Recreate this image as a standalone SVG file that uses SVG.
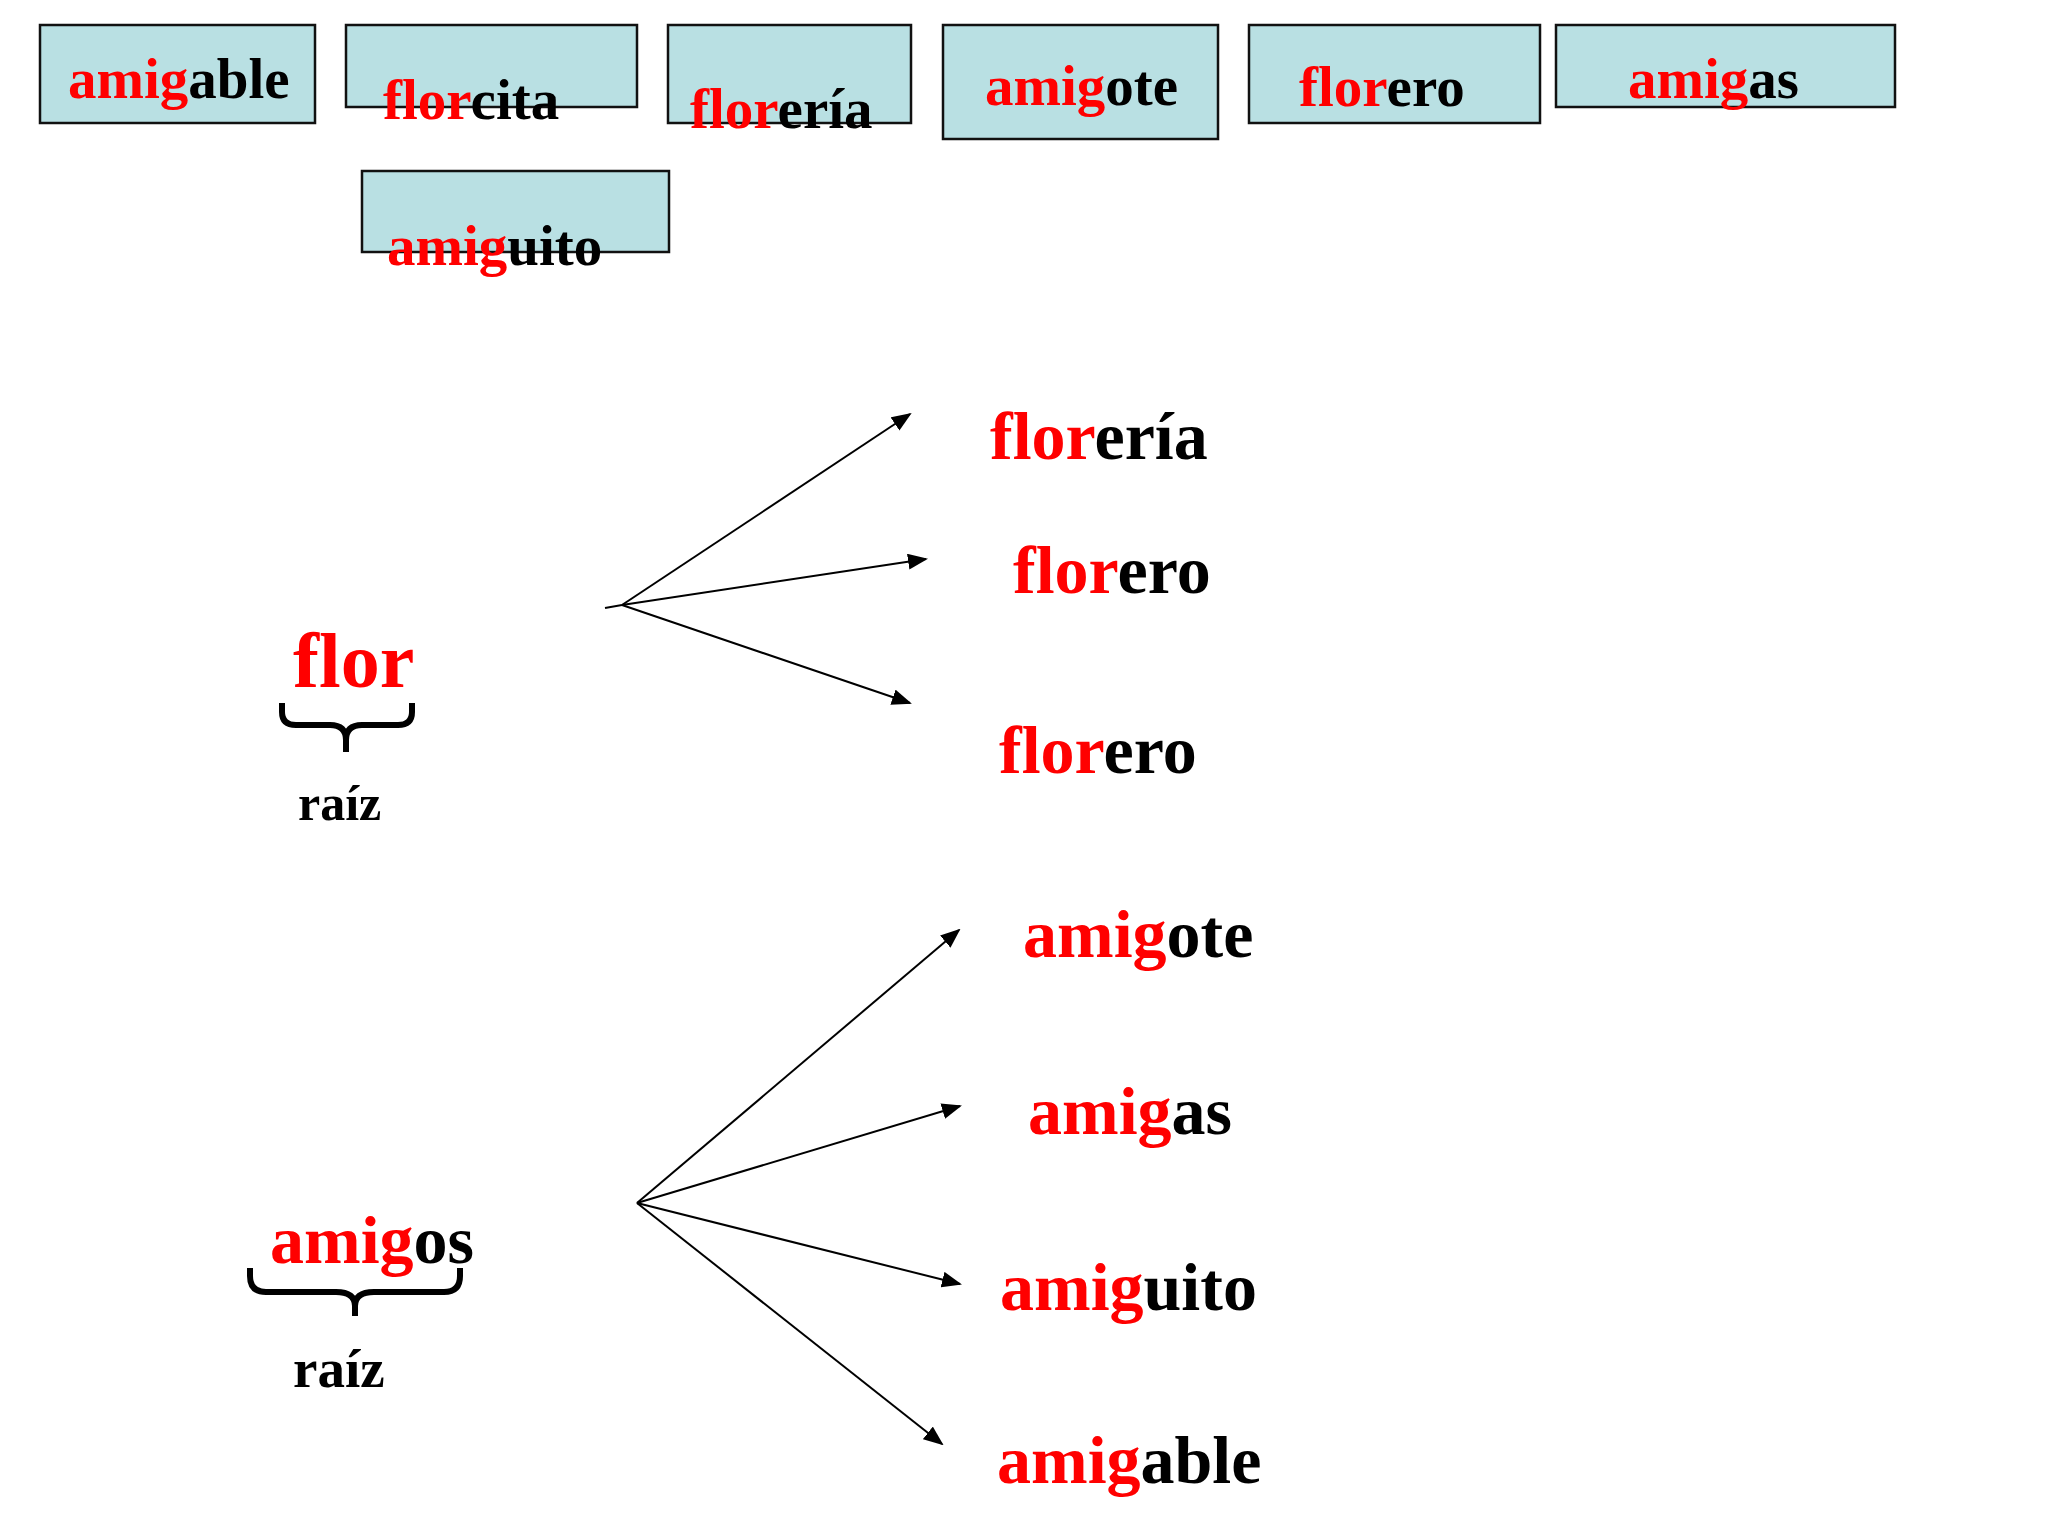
<svg xmlns="http://www.w3.org/2000/svg" width="2048" height="1536" viewBox="0 0 2048 1536">
<style>
.box{fill:#B9E0E3;stroke:#111;stroke-width:2.5}
.w{font-family:"Liberation Serif","Times New Roman",serif;font-weight:bold}
.r{fill:#FF0000}
.k{fill:#000}
.s{font-size:57px}
.m{font-size:68px}
.br{fill:none;stroke:#000;stroke-width:6;stroke-linejoin:round}
.ar{fill:none;stroke:#000;stroke-width:2}
</style>
<defs>
<marker id="ah" markerWidth="20" markerHeight="16" refX="18" refY="8" orient="auto" markerUnits="userSpaceOnUse">
<path d="M0,0 L20,8 L0,16 Z" fill="#000"/>
</marker>
</defs>
<rect width="2048" height="1536" fill="#fff"/>
<g id="box-amigable"><rect class="box" x="40" y="25" width="275" height="98"/><text class="w s" x="68" y="98"><tspan class="r">amig</tspan><tspan class="k">able</tspan></text></g>
<g id="box-florcita"><rect class="box" x="346" y="25" width="291" height="82"/><text class="w s" x="383" y="119"><tspan class="r">flor</tspan><tspan class="k">cita</tspan></text></g>
<g id="box-floreria"><rect class="box" x="668" y="25" width="243" height="98"/><text class="w s" x="690" y="128"><tspan class="r">flor</tspan><tspan class="k">ería</tspan></text></g>
<g id="box-amigote"><rect class="box" x="943" y="25" width="275" height="114"/><text class="w s" x="985" y="105"><tspan class="r">amig</tspan><tspan class="k">ote</tspan></text></g>
<g id="box-florero"><rect class="box" x="1249" y="25" width="291" height="98"/><text class="w s" x="1299" y="106"><tspan class="r">flor</tspan><tspan class="k">ero</tspan></text></g>
<g id="box-amigas"><rect class="box" x="1556" y="25" width="339" height="82"/><text class="w s" x="1628" y="98"><tspan class="r">amig</tspan><tspan class="k">as</tspan></text></g>
<g id="box-amiguito"><rect class="box" x="362" y="171" width="307" height="81"/><text class="w s" x="387" y="265"><tspan class="r">amig</tspan><tspan class="k">uito</tspan></text></g>

<g id="root-flor">
<text class="w r" x="293" y="687" font-size="78">flor</text>
<path class="br" d="M282,703 L282,712 Q282,725 296,725 L330,725 Q346,725 346,740 L346,752 M346,740 Q346,725 362,725 L398,725 Q412,725 412,712 L412,703"/>
<text class="w k" x="298" y="820" font-size="50">raíz</text>
</g>
<g id="root-amigos">
<text class="w m" x="270" y="1263"><tspan class="r">amig</tspan><tspan class="k">os</tspan></text>
<path class="br" d="M250,1268 L250,1276 Q250,1292 266,1292 L336,1292 Q355,1292 355,1306 L355,1316 M355,1306 Q355,1292 374,1292 L444,1292 Q460,1292 460,1276 L460,1268"/>
<text class="w k" x="293" y="1387" font-size="55">raíz</text>
</g>

<g id="d-floreria"><text class="w m" x="990" y="459"><tspan class="r">flor</tspan><tspan class="k">ería</tspan></text></g>
<g id="d-florero1"><text class="w m" x="1013" y="593"><tspan class="r">flor</tspan><tspan class="k">ero</tspan></text></g>
<g id="d-florero2"><text class="w m" x="999" y="773"><tspan class="r">flor</tspan><tspan class="k">ero</tspan></text></g>
<g id="d-amigote"><text class="w m" x="1023" y="957"><tspan class="r">amig</tspan><tspan class="k">ote</tspan></text></g>
<g id="d-amigas"><text class="w m" x="1028" y="1134"><tspan class="r">amig</tspan><tspan class="k">as</tspan></text></g>
<g id="d-amiguito"><text class="w m" x="1000" y="1310"><tspan class="r">amig</tspan><tspan class="k">uito</tspan></text></g>
<g id="d-amigable"><text class="w m" x="997" y="1483"><tspan class="r">amig</tspan><tspan class="k">able</tspan></text></g>

<g id="connectors">
<line class="ar" x1="605" y1="608" x2="622" y2="605"/>
<line class="ar" x1="622" y1="605" x2="910" y2="414" marker-end="url(#ah)"/>
<line class="ar" x1="622" y1="605" x2="926" y2="559" marker-end="url(#ah)"/>
<line class="ar" x1="622" y1="605" x2="910" y2="703" marker-end="url(#ah)"/>
<line class="ar" x1="637" y1="1203" x2="959" y2="930" marker-end="url(#ah)"/>
<line class="ar" x1="637" y1="1203" x2="960" y2="1106" marker-end="url(#ah)"/>
<line class="ar" x1="637" y1="1203" x2="960" y2="1284" marker-end="url(#ah)"/>
<line class="ar" x1="637" y1="1203" x2="942" y2="1444" marker-end="url(#ah)"/>
</g>
</svg>
